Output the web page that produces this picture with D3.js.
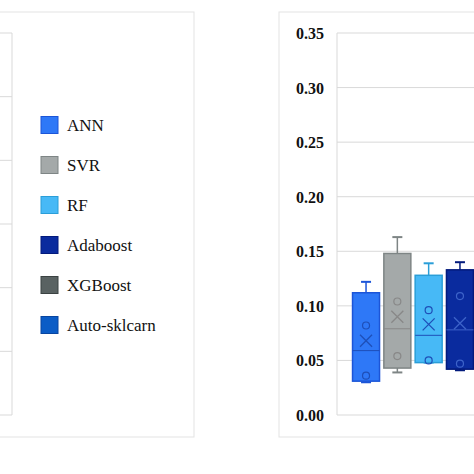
<!DOCTYPE html>
<html><head><meta charset="utf-8">
<script src="https://cdn.jsdelivr.net/npm/d3@7"></script>
<style>body{margin:0;background:#fff}svg{display:block}</style>
</head><body>
<svg id="c" width="474" height="474"></svg>
<script>
const series = ["ANN", "SVR", "RF", "Adaboost", "XGBoost", "Auto-sklcarn"];
const fills = ["#2e78f7", "#a4a9a9", "#47b9f6", "#0a2b9e", "#596262", "#0b5cc6"];
const strokes = ["#1c55d8", "#7e8585", "#2a9ed8", "#021a7c", "#3b4242", "#0845a0"];
// visible boxes: [whiskerLow, q1, median, q3, whiskerHigh, mean, pointA, pointB]
const boxes = [
  [0.030, 0.031, 0.059, 0.112, 0.122, 0.068, 0.082, 0.036],
  [0.039, 0.043, 0.079, 0.148, 0.163, 0.090, 0.104, 0.054],
  [0.048, 0.048, 0.073, 0.128, 0.139, 0.083, 0.096, 0.050],
  [0.041, 0.042, 0.078, 0.133, 0.140, 0.084, 0.109, 0.047]
];
const yTicks = [0, 0.05, 0.10, 0.15, 0.20, 0.25, 0.30, 0.35];
const leftGrid = [0, 1, 2, 3, 4, 5, 6];

const svg = d3.select("#c");
const grid = "#d9d9d9";

// left panel (cropped)
svg.append("rect").attr("x", -1).attr("y", 12).attr("width", 195).attr("height", 425)
  .attr("fill", "none").attr("stroke", "#e3e3e3");
const ly = d3.scaleLinear().domain([0, 6]).range([415, 33]);
svg.append("g").selectAll("line").data(leftGrid).join("line")
  .attr("x1", -1).attr("x2", 12).attr("y1", d => ly(d)).attr("y2", d => ly(d))
  .attr("stroke", grid);
svg.append("line").attr("x1", 12).attr("x2", 12).attr("y1", 33).attr("y2", 415).attr("stroke", grid);

const legY = d3.scalePoint().domain(series).range([125, 325]);
const leg = svg.append("g").selectAll("g").data(series).join("g")
  .attr("transform", d => `translate(41,${legY(d)})`);
leg.append("rect").attr("x", 0).attr("y", -8.5).attr("width", 17).attr("height", 17)
  .attr("fill", (d, i) => fills[i]).attr("stroke", (d, i) => strokes[i]);
leg.append("text").attr("x", 26).attr("y", 6).text(d => d)
  .attr("font-family", "Liberation Serif, serif").attr("font-size", 17).attr("fill", "#111");

// right panel
svg.append("rect").attr("x", 279).attr("y", 12).attr("width", 210).attr("height", 425)
  .attr("fill", "none").attr("stroke", "#e3e3e3");
const y = d3.scaleLinear().domain([0, 0.35]).range([415, 33]);
svg.append("g").selectAll("line").data(yTicks).join("line")
  .attr("x1", 337).attr("x2", 474).attr("y1", d => y(d)).attr("y2", d => y(d))
  .attr("stroke", grid);
svg.append("line").attr("x1", 337).attr("x2", 337).attr("y1", 33).attr("y2", 415).attr("stroke", grid);
svg.append("g").selectAll("text").data(yTicks).join("text")
  .attr("x", 324).attr("y", d => y(d) + 6).attr("text-anchor", "end")
  .attr("font-family", "Liberation Serif, serif").attr("font-weight", "bold")
  .attr("font-size", 16).attr("fill", "#111").text(d => d.toFixed(2));

const x = d3.scaleBand().domain(series.slice(0, 4)).range([346, 480]).paddingInner(0.02).paddingOuter(0.15);
const bw = 27;
const bg = svg.append("g").selectAll("g").data(boxes).join("g")
  .attr("transform", (d, i) => `translate(${x(series[i]) + x.bandwidth() / 2},0)`);
bg.each(function (d, i) {
  const g = d3.select(this), s = strokes[i], f = fills[i];
  const lc = i === 3 ? "#3d63c9" : (i === 1 ? "#888" : "#1e4fb8");
  g.append("line").attr("y1", y(d[0])).attr("y2", y(d[4])).attr("stroke", s).attr("stroke-width", 1.5);
  [d[0], d[4]].forEach(v => g.append("line").attr("x1", -5).attr("x2", 5)
    .attr("y1", y(v)).attr("y2", y(v)).attr("stroke", s).attr("stroke-width", 2));
  g.append("rect").attr("x", -bw / 2).attr("width", bw).attr("y", y(d[3]))
    .attr("height", y(d[1]) - y(d[3])).attr("fill", f).attr("stroke", s).attr("stroke-width", 1.5);
  g.append("line").attr("x1", -bw / 2).attr("x2", bw / 2).attr("y1", y(d[2])).attr("y2", y(d[2]))
    .attr("stroke", lc);
  const my = y(d[5]);
  g.append("path").attr("d", `M-6,${my - 6}L6,${my + 6}M-6,${my + 6}L6,${my - 6}`)
    .attr("stroke", lc).attr("stroke-width", 1.3).attr("fill", "none");
  [d[6], d[7]].forEach(v => g.append("circle").attr("r", 3.5).attr("cy", y(v))
    .attr("fill", "none").attr("stroke", lc).attr("stroke-width", 1.2));
});
</script>
</body></html>
